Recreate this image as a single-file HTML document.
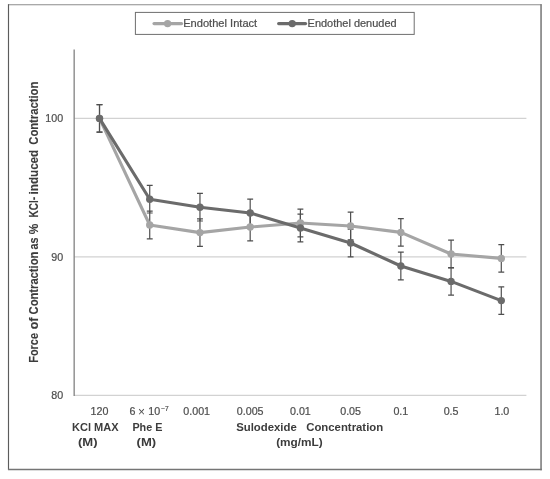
<!DOCTYPE html>
<html><head><meta charset="utf-8"><title>Chart</title>
<style>
html,body{margin:0;padding:0;background:#fff;}
svg{display:block;}
text{font-family:"Liberation Sans",sans-serif;}
.t{font-size:10.7px;fill:#4f4f4f;stroke:#4f4f4f;stroke-width:0.22px;}
.b{font-size:11.1px;font-weight:bold;fill:#3c3c3c;}
.yt{font-size:12.1px;stroke:#3c3c3c;stroke-width:0.12px;}
</style></head><body>
<svg width="550" height="479" viewBox="0 0 550 479">
<rect x="0" y="0" width="550" height="479" fill="#ffffff"/>
<path d="M8 4.8H541.6" stroke="#8c8c8c" stroke-width="1.1" fill="none"/>
<path d="M8.5 4.2V470" stroke="#5c5c5c" stroke-width="1.15" fill="none"/>
<path d="M541.05 4.2V470.2" stroke="#757575" stroke-width="1.5" fill="none"/>
<path d="M8 469.5H541.8" stroke="#757575" stroke-width="1.5" fill="none"/>

<line x1="74.4" y1="118.40" x2="526.4" y2="118.40" stroke="#d2d2d2" stroke-width="1.2"/>
<line x1="74.4" y1="256.90" x2="526.4" y2="256.90" stroke="#d2d2d2" stroke-width="1.2"/>
<line x1="74.4" y1="395.30" x2="526.4" y2="395.30" stroke="#d2d2d2" stroke-width="1.2"/>
<line x1="74.15" y1="49.4" x2="74.15" y2="395.90000000000003" stroke="#777777" stroke-width="1.2"/>
<path d="M99.51 104.60V132.20M96.56 104.60h5.9M96.56 132.20h5.9" stroke="#4e4e4e" stroke-width="1.18" fill="none"/>
<path d="M149.73 211.20V238.80M146.78 211.20h5.9M146.78 238.80h5.9" stroke="#4e4e4e" stroke-width="1.18" fill="none"/>
<path d="M199.96 218.80V246.40M197.01 218.80h5.9M197.01 246.40h5.9" stroke="#4e4e4e" stroke-width="1.18" fill="none"/>
<path d="M250.18 213.20V240.80M247.23 213.20h5.9M247.23 240.80h5.9" stroke="#4e4e4e" stroke-width="1.18" fill="none"/>
<path d="M300.40 209.20V236.80M297.45 209.20h5.9M297.45 236.80h5.9" stroke="#4e4e4e" stroke-width="1.18" fill="none"/>
<path d="M350.62 212.20V239.80M347.67 212.20h5.9M347.67 239.80h5.9" stroke="#4e4e4e" stroke-width="1.18" fill="none"/>
<path d="M400.84 218.60V246.20M397.89 218.60h5.9M397.89 246.20h5.9" stroke="#4e4e4e" stroke-width="1.18" fill="none"/>
<path d="M451.07 240.20V267.80M448.12 240.20h5.9M448.12 267.80h5.9" stroke="#4e4e4e" stroke-width="1.18" fill="none"/>
<path d="M501.29 244.60V272.20M498.34 244.60h5.9M498.34 272.20h5.9" stroke="#4e4e4e" stroke-width="1.18" fill="none"/>
<path d="M99.51 104.60V132.20M96.56 104.60h5.9M96.56 132.20h5.9" stroke="#4e4e4e" stroke-width="1.18" fill="none"/>
<path d="M149.73 185.40V213.00M146.78 185.40h5.9M146.78 213.00h5.9" stroke="#4e4e4e" stroke-width="1.18" fill="none"/>
<path d="M199.96 193.40V221.00M197.01 193.40h5.9M197.01 221.00h5.9" stroke="#4e4e4e" stroke-width="1.18" fill="none"/>
<path d="M250.18 199.20V226.80M247.23 199.20h5.9M247.23 226.80h5.9" stroke="#4e4e4e" stroke-width="1.18" fill="none"/>
<path d="M300.40 214.20V241.80M297.45 214.20h5.9M297.45 241.80h5.9" stroke="#4e4e4e" stroke-width="1.18" fill="none"/>
<path d="M350.62 229.20V256.80M347.67 229.20h5.9M347.67 256.80h5.9" stroke="#4e4e4e" stroke-width="1.18" fill="none"/>
<path d="M400.84 252.20V279.80M397.89 252.20h5.9M397.89 279.80h5.9" stroke="#4e4e4e" stroke-width="1.18" fill="none"/>
<path d="M451.07 267.60V295.20M448.12 267.60h5.9M448.12 295.20h5.9" stroke="#4e4e4e" stroke-width="1.18" fill="none"/>
<path d="M501.29 286.80V314.40M498.34 286.80h5.9M498.34 314.40h5.9" stroke="#4e4e4e" stroke-width="1.18" fill="none"/>
<polyline points="99.51,118.40 149.73,225.00 199.96,232.60 250.18,227.00 300.40,223.00 350.62,226.00 400.84,232.40 451.07,254.00 501.29,258.40" fill="none" stroke="#a5a5a5" stroke-width="3.1" stroke-linejoin="round" stroke-linecap="round"/><circle cx="99.51" cy="118.40" r="3.7" fill="#a5a5a5"/><circle cx="149.73" cy="225.00" r="3.7" fill="#a5a5a5"/><circle cx="199.96" cy="232.60" r="3.7" fill="#a5a5a5"/><circle cx="250.18" cy="227.00" r="3.7" fill="#a5a5a5"/><circle cx="300.40" cy="223.00" r="3.7" fill="#a5a5a5"/><circle cx="350.62" cy="226.00" r="3.7" fill="#a5a5a5"/><circle cx="400.84" cy="232.40" r="3.7" fill="#a5a5a5"/><circle cx="451.07" cy="254.00" r="3.7" fill="#a5a5a5"/><circle cx="501.29" cy="258.40" r="3.7" fill="#a5a5a5"/>
<polyline points="99.51,118.40 149.73,199.20 199.96,207.20 250.18,213.00 300.40,228.00 350.62,243.00 400.84,266.00 451.07,281.40 501.29,300.60" fill="none" stroke="#6b6b6b" stroke-width="3.1" stroke-linejoin="round" stroke-linecap="round"/><circle cx="99.51" cy="118.40" r="3.7" fill="#6b6b6b"/><circle cx="149.73" cy="199.20" r="3.7" fill="#6b6b6b"/><circle cx="199.96" cy="207.20" r="3.7" fill="#6b6b6b"/><circle cx="250.18" cy="213.00" r="3.7" fill="#6b6b6b"/><circle cx="300.40" cy="228.00" r="3.7" fill="#6b6b6b"/><circle cx="350.62" cy="243.00" r="3.7" fill="#6b6b6b"/><circle cx="400.84" cy="266.00" r="3.7" fill="#6b6b6b"/><circle cx="451.07" cy="281.40" r="3.7" fill="#6b6b6b"/><circle cx="501.29" cy="300.60" r="3.7" fill="#6b6b6b"/>
<rect x="135.4" y="12.4" width="278.8" height="22" fill="#ffffff" stroke="#6e6e6e" stroke-width="1"/>
<line x1="154" y1="23.6" x2="181.6" y2="23.6" stroke="#a5a5a5" stroke-width="3.1" stroke-linecap="round"/><circle cx="167.6" cy="23.6" r="3.7" fill="#a5a5a5"/>
<line x1="278.6" y1="23.6" x2="305.6" y2="23.6" stroke="#6b6b6b" stroke-width="3.1" stroke-linecap="round"/><circle cx="292.2" cy="23.6" r="3.7" fill="#6b6b6b"/>
<text class="t" x="183.2" y="26.9" textLength="74" lengthAdjust="spacingAndGlyphs">Endothel Intact</text>
<text class="t" x="307.6" y="26.9" textLength="89" lengthAdjust="spacingAndGlyphs">Endothel denuded</text>
<text class="t" x="63.2" y="122.20" text-anchor="end">100</text>
<text class="t" x="63.2" y="260.50" text-anchor="end">90</text>
<text class="t" x="63.2" y="398.70" text-anchor="end">80</text>
<text class="t" x="99.51" y="414.6" text-anchor="middle">120</text>
<text class="t" x="196.66" y="414.6" text-anchor="middle">0.001</text>
<text class="t" x="250.18" y="414.6" text-anchor="middle">0.005</text>
<text class="t" x="300.40" y="414.6" text-anchor="middle">0.01</text>
<text class="t" x="350.62" y="414.6" text-anchor="middle">0.05</text>
<text class="t" x="400.84" y="414.6" text-anchor="middle">0.1</text>
<text class="t" x="451.07" y="414.6" text-anchor="middle">0.5</text>
<text class="t" x="501.89" y="414.6" text-anchor="middle">1.0</text>
<text class="t" y="414.6"><tspan x="129.4">6</tspan><tspan x="138" y="416.1" font-size="12px" stroke-width="0">×</tspan><tspan x="148.2" y="414.6">10</tspan><tspan x="161.2" y="410.9" font-size="6.6px">−7</tspan></text>
<text class="b" x="72" y="430.6" textLength="46.6" lengthAdjust="spacingAndGlyphs">KCl MAX</text>
<text class="b" x="78" y="446" textLength="19.6" lengthAdjust="spacingAndGlyphs">(M)</text>
<text class="b" x="132.4" y="430.6" textLength="30" lengthAdjust="spacingAndGlyphs">Phe E</text>
<text class="b" x="136.6" y="446" textLength="19.6" lengthAdjust="spacingAndGlyphs">(M)</text>
<text class="b" x="236.2" y="430.6" textLength="147" lengthAdjust="spacingAndGlyphs" style="white-space:pre">Sulodexide   Concentration</text>
<text class="b" x="276.2" y="446" textLength="46.6" lengthAdjust="spacingAndGlyphs">(mg/mL)</text>
<g transform="translate(37.9 362.3) rotate(-90)">
<text class="b yt" x="-0.5" y="0" textLength="29.8" lengthAdjust="spacingAndGlyphs">Force</text>
<text class="b yt" x="33.1" y="0" textLength="11.7" lengthAdjust="spacingAndGlyphs">of</text>
<text class="b yt" x="47.9" y="0" textLength="62.7" lengthAdjust="spacingAndGlyphs">Contraction</text>
<text class="b yt" x="112.7" y="0" textLength="12.0" lengthAdjust="spacingAndGlyphs">as</text>
<text class="b yt" x="128.1" y="0" textLength="10.5" lengthAdjust="spacingAndGlyphs">%</text>
<text class="b yt" x="144.9" y="0" textLength="20.4" lengthAdjust="spacingAndGlyphs">KCl-</text>
<text class="b yt" x="167.9" y="0" textLength="44.6" lengthAdjust="spacingAndGlyphs">induced</text>
<text class="b yt" x="217.6" y="0" textLength="63.0" lengthAdjust="spacingAndGlyphs">Contraction</text>
</g>
</svg></body></html>
